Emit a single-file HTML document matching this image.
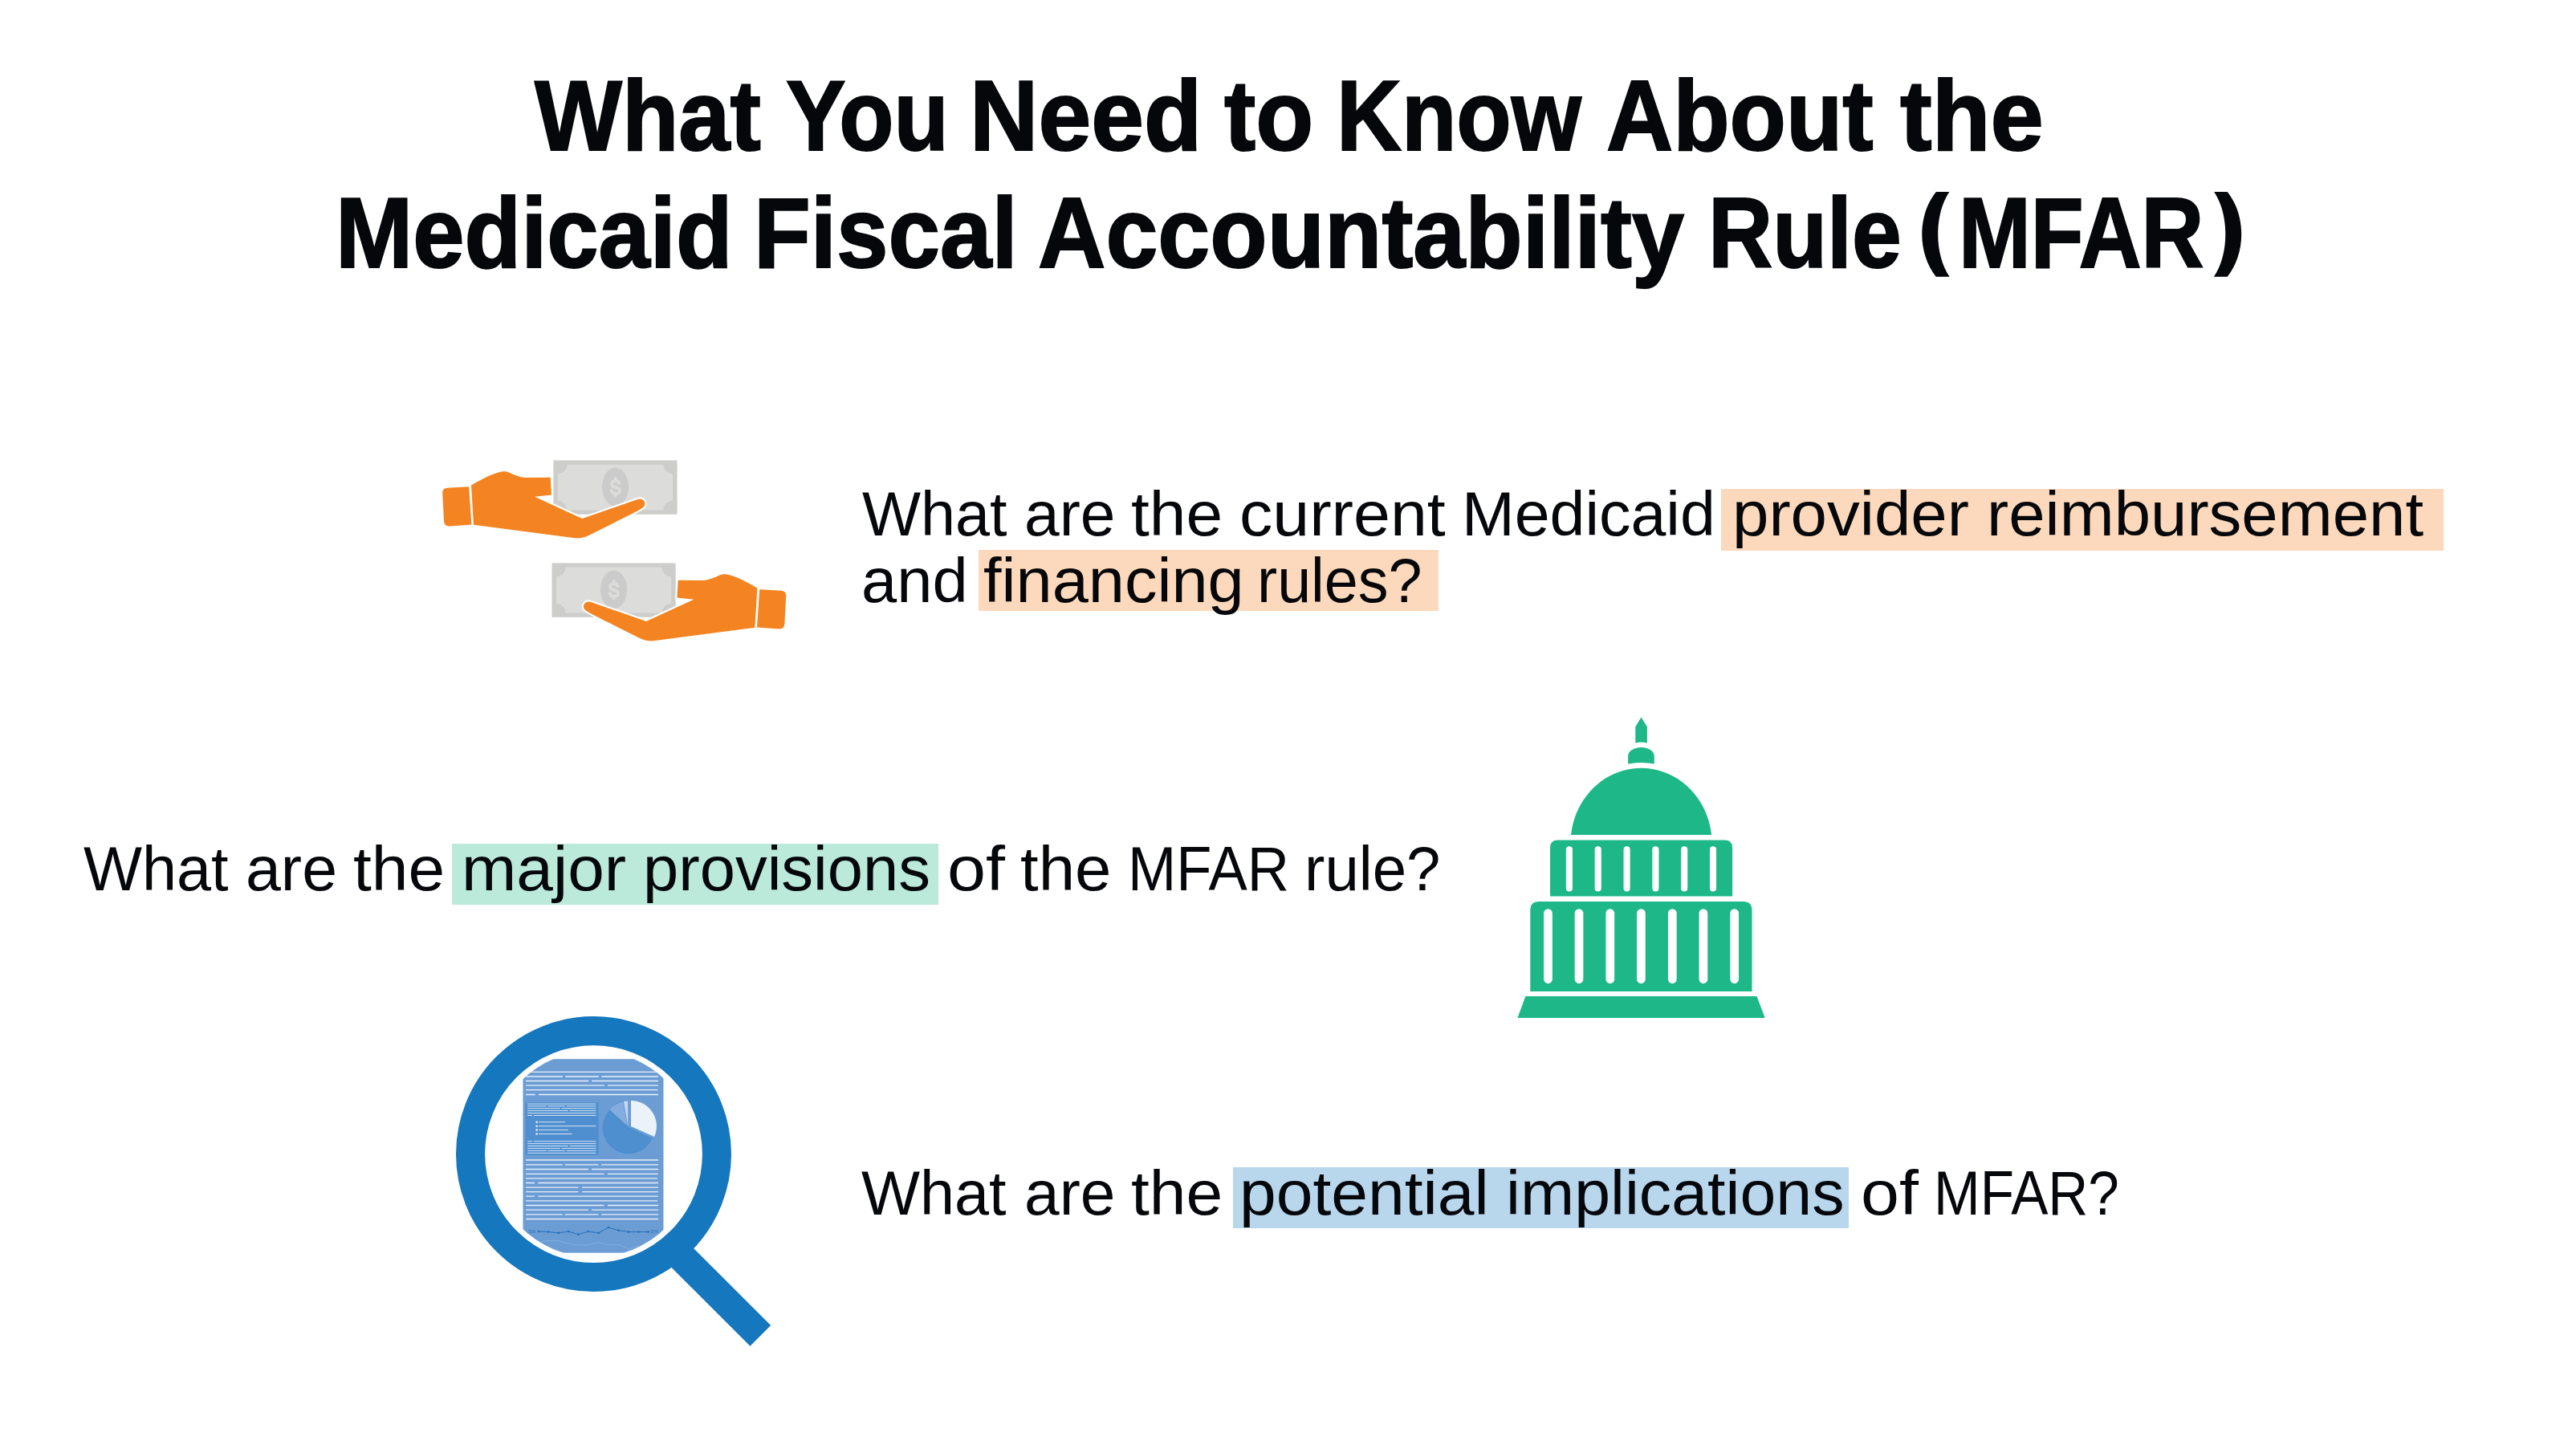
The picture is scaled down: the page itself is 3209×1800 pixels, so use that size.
<!DOCTYPE html>
<html><head><meta charset="utf-8"><title>MFAR</title>
<style>
html,body{margin:0;padding:0;background:#fff;}
body{width:3209px;height:1800px;position:relative;overflow:hidden;font-family:"Liberation Sans",sans-serif;}
.t,.b{position:absolute;white-space:pre;transform-origin:0 0;color:#06070a;}
.t{font-weight:700;font-size:125px;line-height:125px;-webkit-text-stroke:2.0px #06070a;}
.b{font-weight:400;font-size:78px;line-height:78px;}
.hl{position:absolute;}
svg{position:absolute;left:0;top:0;}
</style></head><body>
<div class="hl" style="left:2143.8px;top:609.0px;width:900.0px;height:76.8px;background:#fcd9bc"></div>
<div class="hl" style="left:1219.0px;top:685.0px;width:572.9px;height:75.8px;background:#fcd9bc"></div>
<div class="hl" style="left:563.4px;top:1051.1px;width:605.5px;height:76.2px;background:#bbeadb"></div>
<div class="hl" style="left:1536.4px;top:1454.1px;width:766.6px;height:75.8px;background:#b8d6ec"></div>
<div class="t" style="left:665.9px;top:81.4px;transform:scaleX(0.9229)">What</div>
<div class="t" style="left:979.1px;top:81.4px;transform:scaleX(0.8932)">You</div>
<div class="t" style="left:1207.7px;top:81.4px;transform:scaleX(0.9466)">Need</div>
<div class="t" style="left:1525.3px;top:81.4px;transform:scaleX(0.9426)">to</div>
<div class="t" style="left:1664.7px;top:81.4px;transform:scaleX(0.8961)">Know</div>
<div class="t" style="left:2001.0px;top:81.4px;transform:scaleX(0.9217)">About</div>
<div class="t" style="left:2366.7px;top:81.4px;transform:scaleX(0.953)">the</div>
<div class="t" style="left:418.2px;top:227.1px;transform:scaleX(0.9246)">Medicaid</div>
<div class="t" style="left:938.5px;top:227.1px;transform:scaleX(0.9276)">Fiscal</div>
<div class="t" style="left:1293.4px;top:227.1px;transform:scaleX(0.9347)">Accountability</div>
<div class="t" style="left:2127.5px;top:227.1px;transform:scaleX(0.8889)">Rule</div>
<div class="t" style="left:2439.7px;top:227.1px;transform:scaleX(0.8624)">MFAR</div>
<div class="b" style="left:1073.5px;top:600.6px;transform:scaleX(0.9918)">What</div>
<div class="b" style="left:1276.0px;top:600.6px;transform:scaleX(1.0057)">are</div>
<div class="b" style="left:1409.4px;top:600.6px;transform:scaleX(1.0529)">the</div>
<div class="b" style="left:1543.6px;top:600.6px;transform:scaleX(1.0577)">current</div>
<div class="b" style="left:1821.1px;top:600.6px;transform:scaleX(1.0116)">Medicaid</div>
<div class="b" style="left:2158.1px;top:600.6px;transform:scaleX(1.0467)">provider</div>
<div class="b" style="left:2475.0px;top:600.6px;transform:scaleX(1.046)">reimbursement</div>
<div class="b" style="left:1072.5px;top:683.7px;transform:scaleX(1.0189)">and</div>
<div class="b" style="left:1225.1px;top:683.7px;transform:scaleX(1.0399)">financing</div>
<div class="b" style="left:1565.5px;top:683.7px;transform:scaleX(0.9673)">rules?</div>
<div class="b" style="left:104.0px;top:1043.0px;transform:scaleX(0.9918)">What</div>
<div class="b" style="left:305.9px;top:1043.0px;transform:scaleX(1.0113)">are</div>
<div class="b" style="left:440.1px;top:1043.0px;transform:scaleX(1.0529)">the</div>
<div class="b" style="left:574.5px;top:1043.0px;transform:scaleX(1.0513)">major</div>
<div class="b" style="left:801.3px;top:1043.0px;transform:scaleX(1.0192)">provisions</div>
<div class="b" style="left:1180.2px;top:1043.0px;transform:scaleX(1.1063)">of</div>
<div class="b" style="left:1270.5px;top:1043.0px;transform:scaleX(1.0462)">the</div>
<div class="b" style="left:1405.3px;top:1043.0px;transform:scaleX(0.9275)">MFAR</div>
<div class="b" style="left:1624.9px;top:1043.0px;transform:scaleX(0.9771)">rule?</div>
<div class="b" style="left:1073.3px;top:1446.6px;transform:scaleX(0.9918)">What</div>
<div class="b" style="left:1275.8px;top:1446.6px;transform:scaleX(1.0057)">are</div>
<div class="b" style="left:1409.3px;top:1446.6px;transform:scaleX(1.0538)">the</div>
<div class="b" style="left:1544.3px;top:1446.6px;transform:scaleX(1.0537)">potential</div>
<div class="b" style="left:1875.5px;top:1446.6px;transform:scaleX(1.0345)">implications</div>
<div class="b" style="left:2317.7px;top:1446.6px;transform:scaleX(1.1048)">of</div>
<div class="b" style="left:2409.0px;top:1446.6px;transform:scaleX(0.8877)">MFAR?</div>
<svg width="3209" height="1800" viewBox="0 0 3209 1800">
<!--ICONS-->
<path fill="#06070a" d="M2411.8,238.9 L2428.3,238.9 C2419,253 2414.2,272 2414.2,291.8 C2414.2,311.6 2419,330.6 2428.6,344.8 L2411.8,344.8 C2400.5,330.5 2394.3,311.6 2394.3,291.8 C2394.3,272 2400.5,253 2411.8,238.9 Z M2774.7,238.9 L2758.2,238.9 C2767.5,253 2772.3,272 2772.3,291.8 C2772.3,311.6 2767.5,330.6 2757.9,344.8 L2774.7,344.8 C2786,330.5 2792.2,311.6 2792.2,291.8 C2792.2,272 2786,253 2774.7,238.9 Z"/>
<defs>
<clipPath id="docclip"><circle cx="739.5" cy="1437.6" r="128.6"/></clipPath>
<g id="bill">
<rect x="689.4" y="573.4" width="154.2" height="67.4" fill="#cdcdcb"/>
<path d="M706.4,578.7 L826.5,578.7 A11.5,11.5 0 0 0 838,590.2 L838,623.9 A11.5,11.5 0 0 0 826.5,635.4 L706.4,635.4 A11.5,11.5 0 0 0 694.9,623.9 L694.9,590.2 A11.5,11.5 0 0 0 706.4,578.7 Z" fill="#dcdcda"/>
<ellipse cx="766.5" cy="606.5" rx="16.6" ry="23.7" fill="#cbcbcb"/>
<path d="M771.4,602.4 C770.8,600.2 769,599 766.7,599 C764,599 761.8,600.6 761.8,603 C761.8,608.6 772,606 772,611.2 C772,613.6 769.8,615 766.8,615 C764.2,615 762.2,613.6 761.6,611.4" fill="none" stroke="#dcdcda" stroke-width="3.8" stroke-linecap="round"/>
<path d="M766.7,593.9 V599.5 M766.7,614.5 V619.2" stroke="#dcdcda" stroke-width="3.4"/>
</g>
<g id="hand">
<path d="M557.4,607.8 L584.2,606.2 L587.4,653.5 L560.1,655.4 Q553.4,655.8 553,649 L551.2,614.3 Q551,608.2 557.4,607.8 Z" fill="#f48421"/>
<path d="M587.0,604.6 C596,599 615,588.5 627.0,587.2 C630,587 632,587.6 634,588.6 C640,591.5 648,594.8 654.1,595.0 L685.7,594.8 L687.0,616.5 L666.1,618.7 L725.3,645.9 L794.3,622.0 C798,620.6 801.5,621.6 803,625.2 C804.2,628.5 802.8,631.2 800.3,632.8 C796,635.6 788,639.8 770,648.6 L732.4,667.6 C727,670 721,670.8 716.1,670.3 L590.0,653.7 Z" fill="#f48421" stroke="#fff" stroke-width="4.2" stroke-linejoin="round" paint-order="stroke"/>
</g>
</defs>
<!-- hands & money -->
<use href="#bill"/>
<use href="#bill" transform="translate(-1.9,128)"/>
<use href="#hand"/>
<use href="#hand" transform="matrix(-1,0,0,1,1530.4,128)"/>
<!-- capitol -->
<g fill="#1eb888">
<path d="M2044.5,893.5 L2051.9,905.2 L2051.9,925.5 Q2044.6,923.3 2037.3,925.5 L2037.3,905.2 Z"/>
<path d="M2028.1,951.6 L2028.1,942 C2028.1,935.5 2036,931.1 2044.5,931.1 C2053,931.1 2060.8,935.5 2060.8,942 L2060.8,951.6 Q2044.5,948.6 2028.1,951.6 Z"/>
<path d="M1957.0,1039.9 C1962,994 1998,957 2044.5,956.8 C2091,957 2127,994 2132.1,1039.9 Z"/>
<path d="M1931,1116.5 L1931,1055.9 Q1931,1046.4 1940.5,1046.4 L2148.6,1046.4 Q2158.1,1046.4 2158.1,1055.9 L2158.1,1116.5 Z"/>
<path d="M1906.3,1235.1 L1906.3,1133.9 Q1906.3,1122.9 1917.3,1122.9 L2171.5,1122.9 Q2182.5,1122.9 2182.5,1133.9 L2182.5,1235.1 Z"/>
<path d="M1900.4,1241.1 L2188.5,1241.1 L2198.7,1267.9 L1890.4,1267.9 Z"/>
</g>
<g stroke="#fff" stroke-linecap="round" fill="none">
<path stroke-width="8.1" d="M1954.9,1058.3V1106.4 M1990.7,1058.3V1106.4 M2026.6,1058.3V1106.4 M2062.4,1058.3V1106.4 M2098.2,1058.3V1106.4 M2134.0,1058.3V1106.4"/>
<path stroke-width="10.7" d="M1928.5,1137.5V1219.8 M1967.0,1137.5V1219.8 M2005.8,1137.5V1219.8 M2044.4,1137.5V1219.8 M2083.3,1137.5V1219.8 M2121.9,1137.5V1219.8 M2160.7,1137.5V1219.8"/>
</g>
<!-- magnifier -->
<g clip-path="url(#docclip)">
<rect x="651.5" y="1319.2" width="175" height="241.4" fill="#6b9dd4"/>
<g stroke="#e9f0f9" stroke-width="1.3" fill="none">
<path d="M655,1335.4H820 M655,1341H701 M704.1,1341H745.9 M749.2,1341H820 M655,1346.5H733.3 M737.2,1346.5H820 M655,1352.2H752.9 M757.1,1352.2H820 M655,1357.7H819.5 M655,1363.5H666.8 M671,1363.5H820"/>
<path d="M655,1445H820 M655,1450.9H701 M703.7,1450.9H745.4 M749,1450.9H820 M655,1456.5H733 M737,1456.5H820 M655,1462.3H752.5 M757,1462.3H820 M655,1467.9H819 M655,1473.5H666 M670.5,1473.5H820 M655,1479.2H720.4 M725.2,1479.2H820 M655,1484.6H720.4 M725.2,1484.6H820 M655,1490.2H666 M670.5,1490.2H820 M655,1495.9H819 M655,1501.5H752.5 M757,1501.5H820 M655,1507.2H733 M737,1507.2H820 M655,1512.8H701 M703.7,1512.8H745.4 M749,1512.8H820 M655,1518.5H820"/>
</g>
<rect x="654.5" y="1373.2" width="91.1" height="65.7" fill="#4f8fcf"/>
<g stroke="#d3e2f4" stroke-width="1.0" fill="none">
<path d="M657,1375.1H742.4 M657,1377.8H680.8 M682.3,1377.8H704 M705.8,1377.8H742.4 M657,1380.7H697.8 M699.7,1380.7H742.4 M657,1383.6H707.8 M709.8,1383.6H742.4 M657,1386.6H742.4 M657,1389.5H663 M665,1389.5H742.4"/>
<path d="M671,1397.7H704 M671,1402.7H742.4 M671,1407.6H707.8 M671,1412.5H712.5"/>
<path d="M657,1421.7H663 M665,1421.7H742.4 M657,1424.6H742.4 M657,1427.5H707.8 M709.8,1427.5H742.4 M657,1430.4H697.8 M699.7,1430.4H742.4 M657,1433.4H680.8 M682.3,1433.4H704 M705.8,1433.4H742.4 M657,1436.3H742.4"/>
</g>
<g fill="#e9f0f9"><circle cx="668.6" cy="1397.7" r="1.3"/><circle cx="668.6" cy="1402.7" r="1.3"/><circle cx="668.6" cy="1407.6" r="1.3"/><circle cx="668.6" cy="1412.5" r="1.3"/></g>
<path d="M783.2,1404.8 L812.2,1418.3 A32,32 0 1 1 759.6,1383.2 Z" fill="#4d8fcf" stroke="#3d88cf" stroke-width="0.6"/>
<path d="M782.4,1403.6 L758.8,1382.0 A32,32 0 0 1 776.3,1372.2 Z" fill="#84acdf" stroke="#3d88cf" stroke-width="0.4"/>
<path d="M782.4,1403.6 L776.9,1372.1 A32,32 0 0 1 782.1,1371.6 Z" fill="#c4d6ef"/>
<path d="M786,1402.9 L786,1370.9 A32,32 0 0 1 815.1,1416.1 Z" fill="#ebf2fa"/>
<polyline points="671,1534 683.1,1534.5 695.7,1535.9 708.1,1534 720.4,1537.7 732.8,1534 745.6,1535.9 758,1529 770.6,1532.7 782.9,1534.5 795.3,1534.5 807.6,1534.5" fill="none" stroke="#2571bb" stroke-width="1"/>
<text x="658.2" y="1535.6" font-family="Liberation Sans" font-size="4.6" fill="#2570b9">50%</text><text x="810.3" y="1535.9" font-family="Liberation Sans" font-size="4.6" fill="#2570b9">50%</text>
<g fill="#2571bb"><circle cx="671" cy="1534" r="1.35"/><circle cx="683.1" cy="1534.5" r="1.35"/><circle cx="695.7" cy="1535.9" r="1.35"/><circle cx="708.1" cy="1534" r="1.35"/><circle cx="720.4" cy="1537.7" r="1.35"/><circle cx="732.8" cy="1534" r="1.35"/><circle cx="745.6" cy="1535.9" r="1.35"/><circle cx="758" cy="1529" r="1.35"/><circle cx="770.6" cy="1532.7" r="1.35"/><circle cx="782.9" cy="1534.5" r="1.35"/><circle cx="795.3" cy="1534.5" r="1.35"/><circle cx="807.6" cy="1534.5" r="1.35"/></g>
<polyline points="674.9,1546.6 683.1,1545.6 695.7,1545.6 708.1,1549.2 720.4,1550.9 732.8,1550.9 745.6,1547.4 758,1550.9 770.6,1550.5 782.9,1555.8 795.3,1551.9" fill="none" stroke="#8db3e2" stroke-width="0.7"/>
</g>
<circle cx="739.5" cy="1437.6" r="153.45" fill="none" stroke="#1577bd" stroke-width="36.1"/>
<path d="M852.05,1542.95 L960.2,1651.1 L934.45,1676.85 L826.3,1568.7 Z" fill="#1577bd"/>
</svg>
</body></html>
